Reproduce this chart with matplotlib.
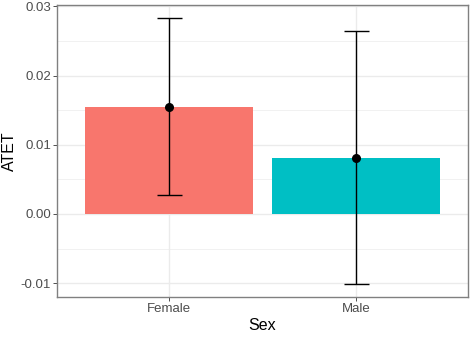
import numpy as np
import matplotlib
matplotlib.use("Agg")
import matplotlib.pyplot as plt

plt.rcParams["font.family"] = ["Liberation Sans", "DejaVu Sans"]

# data
sexes = ["Female", "Male"]
atet = [0.0155, 0.0081]
ci_low = [0.0028, -0.0101]
ci_high = [0.0283, 0.0265]
bar_colors = ["#F8766D", "#00BFC4"]

fig = plt.figure(figsize=(4.74, 3.38), dpi=100)
ax = fig.add_axes([0.1203, 0.1213, 0.8670, 0.8639])

x = np.arange(1, len(sexes) + 1)
est = np.array(atet)
lo = np.array(ci_low)
hi = np.array(ci_high)

# grid like theme_bw
for v in np.arange(-0.01, 0.031, 0.005):
    major = abs(round(v / 0.01) * 0.01 - v) < 1e-9
    ax.axhline(v, color="#EBEBEB", lw=1.0 if major else 0.5, zorder=0)
for xi in x:
    ax.axvline(xi, color="#EBEBEB", lw=1.0, zorder=0)

ax.bar(x, est, width=0.9, color=bar_colors, zorder=2)
ax.errorbar(x, est, yerr=[est - lo, hi - est], fmt="none", ecolor="black",
            elinewidth=1.0, capsize=9, capthick=1.0, zorder=3)
ax.scatter(x, est, s=30, color="black", zorder=4)

ax.set_xlim(0.4, 2.6)
ax.set_ylim(-0.012, 0.0302)
ax.set_xticks(x)
ax.set_xticklabels(sexes)
ax.set_yticks([-0.01, 0.0, 0.01, 0.02, 0.03])
ax.set_yticklabels(["-0.01", "0.00", "0.01", "0.02", "0.03"])

ax.tick_params(colors="#333333", labelcolor="#4D4D4D", labelsize=9.5,
               length=3, width=0.6, pad=1.2)
for s in ax.spines.values():
    s.set_color("#808080")
    s.set_linewidth(1.0)

ax.set_xlabel("Sex", fontsize=11.5, labelpad=2)
ax.set_ylabel("ATET", fontsize=11.5, labelpad=3)

fig.savefig("out.png", dpi=100)
